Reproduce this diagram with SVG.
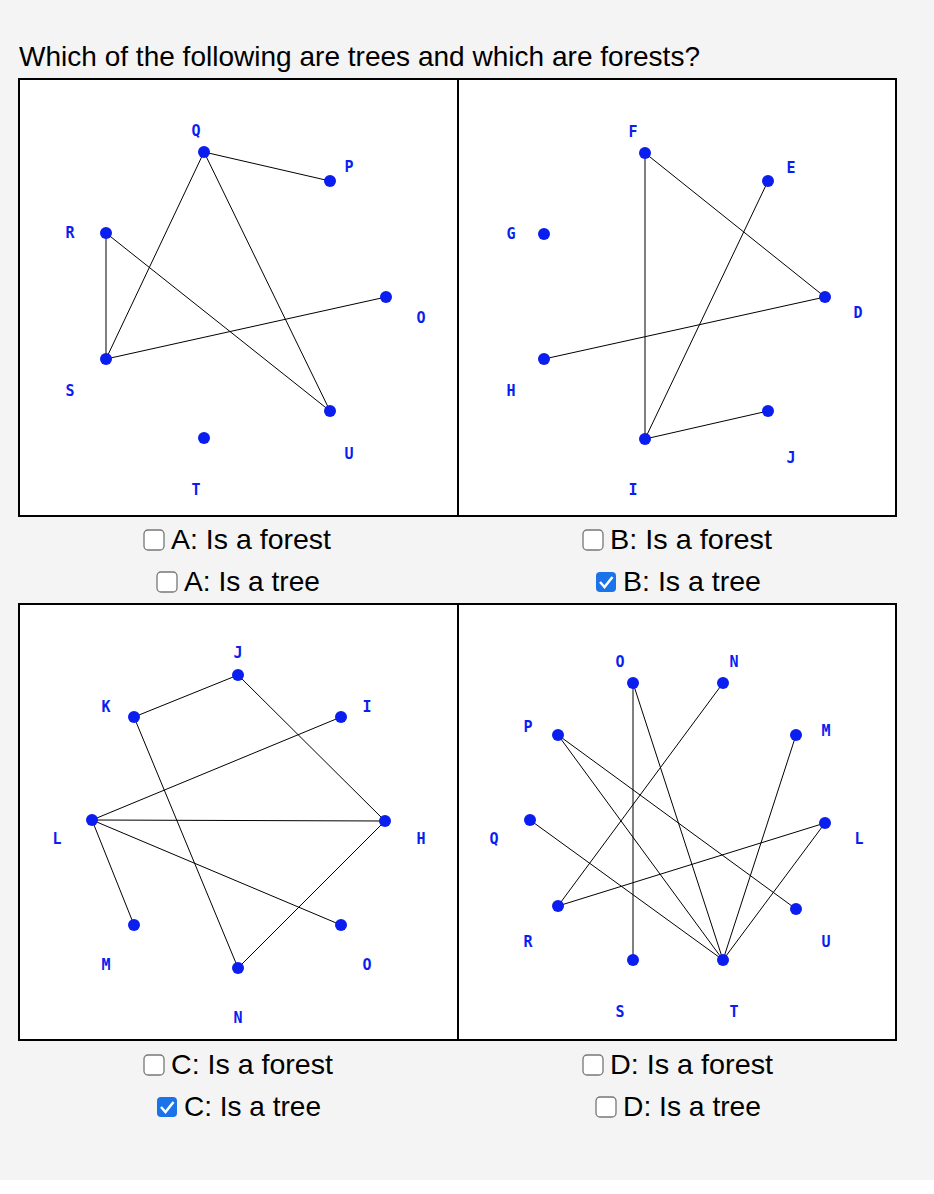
<svg xmlns="http://www.w3.org/2000/svg" width="934" height="1194" viewBox="0 0 934 1194">
<style>
.p{fill:#fff;stroke:#000;stroke-width:2}
.e line{stroke:#000;stroke-width:1}
.n{fill:#0a1ef0}
.l{font-family:"DejaVu Sans Mono",monospace;font-weight:bold;font-size:15px;fill:#0a1ef0;text-anchor:middle}
.t{font-family:"Liberation Sans",Arial,sans-serif;font-size:28px;fill:#000}
.c{fill:#fff;stroke:#777;stroke-width:1.3}
</style>
<rect x="0" y="0" width="934" height="1194" fill="#f4f4f4"/>
<rect x="0" y="1180" width="934" height="14" fill="#fff"/>
<text class="t" x="19" y="66" textLength="681" lengthAdjust="spacingAndGlyphs">Which of the following are trees and which are forests?</text>
<rect class="p" x="19" y="79" width="439" height="437"/>
<rect class="p" x="458" y="79" width="438" height="437"/>
<rect class="p" x="19" y="604" width="439" height="436"/>
<rect class="p" x="458" y="604" width="438" height="436"/>
<g id="connectors" class="e">
<line x1="204" y1="152" x2="330" y2="181"/><line x1="204" y1="152" x2="106" y2="359"/><line x1="204" y1="152" x2="330" y2="411"/>
<line x1="106" y1="233" x2="106" y2="359"/><line x1="106" y1="233" x2="330" y2="411"/><line x1="106" y1="359" x2="386" y2="297"/>
<line x1="645" y1="153" x2="645" y2="439"/><line x1="645" y1="153" x2="825" y2="297"/><line x1="768" y1="181" x2="645" y2="439"/>
<line x1="825" y1="297" x2="544" y2="359"/><line x1="645" y1="439" x2="768" y2="411"/>
<line x1="134" y1="717" x2="238" y2="675"/><line x1="238" y1="675" x2="385" y2="821"/><line x1="134" y1="717" x2="238" y2="968"/>
<line x1="92" y1="820" x2="341" y2="717"/><line x1="92" y1="820" x2="385" y2="821"/><line x1="92" y1="820" x2="134" y2="925"/>
<line x1="92" y1="820" x2="341" y2="925"/><line x1="238" y1="968" x2="385" y2="821"/>
<line x1="633" y1="683" x2="633" y2="960"/><line x1="633" y1="683" x2="723" y2="960"/><line x1="723" y1="683" x2="558" y2="906"/>
<line x1="558" y1="735" x2="723" y2="960"/><line x1="558" y1="735" x2="796" y2="909"/><line x1="530" y1="820" x2="723" y2="960"/>
<line x1="796" y1="735" x2="723" y2="960"/><line x1="825" y1="823" x2="558" y2="906"/><line x1="825" y1="823" x2="723" y2="960"/>
</g>
<g id="graphA">
<circle class="n" cx="204" cy="152" r="6"/><text class="l" x="196" y="136">Q</text>
<circle class="n" cx="330" cy="181" r="6"/><text class="l" x="349" y="172">P</text>
<circle class="n" cx="106" cy="233" r="6"/><text class="l" x="70" y="238">R</text>
<circle class="n" cx="386" cy="297" r="6"/><text class="l" x="421" y="323">O</text>
<circle class="n" cx="106" cy="359" r="6"/><text class="l" x="70" y="396">S</text>
<circle class="n" cx="330" cy="411" r="6"/><text class="l" x="349" y="459">U</text>
<circle class="n" cx="204" cy="438" r="6"/><text class="l" x="196" y="495">T</text>
</g>
<g id="graphB">
<circle class="n" cx="645" cy="153" r="6"/><text class="l" x="633" y="137">F</text>
<circle class="n" cx="768" cy="181" r="6"/><text class="l" x="791" y="173">E</text>
<circle class="n" cx="544" cy="234" r="6"/><text class="l" x="511" y="239">G</text>
<circle class="n" cx="825" cy="297" r="6"/><text class="l" x="858" y="318">D</text>
<circle class="n" cx="544" cy="359" r="6"/><text class="l" x="511" y="396">H</text>
<circle class="n" cx="768" cy="411" r="6"/><text class="l" x="791" y="463">J</text>
<circle class="n" cx="645" cy="439" r="6"/><text class="l" x="633" y="495">I</text>
</g>
<g id="graphC">
<circle class="n" cx="238" cy="675" r="6"/><text class="l" x="238" y="658">J</text>
<circle class="n" cx="134" cy="717" r="6"/><text class="l" x="106" y="712">K</text>
<circle class="n" cx="341" cy="717" r="6"/><text class="l" x="367" y="712">I</text>
<circle class="n" cx="92" cy="820" r="6"/><text class="l" x="57" y="844">L</text>
<circle class="n" cx="385" cy="821" r="6"/><text class="l" x="421" y="844">H</text>
<circle class="n" cx="134" cy="925" r="6"/><text class="l" x="106" y="970">M</text>
<circle class="n" cx="341" cy="925" r="6"/><text class="l" x="367" y="970">O</text>
<circle class="n" cx="238" cy="968" r="6"/><text class="l" x="238" y="1023">N</text>
</g>
<g id="graphD">
<circle class="n" cx="633" cy="683" r="6"/><text class="l" x="620" y="667">O</text>
<circle class="n" cx="723" cy="683" r="6"/><text class="l" x="734" y="667">N</text>
<circle class="n" cx="558" cy="735" r="6"/><text class="l" x="528" y="732">P</text>
<circle class="n" cx="796" cy="735" r="6"/><text class="l" x="826" y="736">M</text>
<circle class="n" cx="530" cy="820" r="6"/><text class="l" x="494" y="844">Q</text>
<circle class="n" cx="825" cy="823" r="6"/><text class="l" x="859" y="844">L</text>
<circle class="n" cx="558" cy="906" r="6"/><text class="l" x="528" y="947">R</text>
<circle class="n" cx="796" cy="909" r="6"/><text class="l" x="826" y="947">U</text>
<circle class="n" cx="633" cy="960" r="6"/><text class="l" x="620" y="1017">S</text>
<circle class="n" cx="723" cy="960" r="6"/><text class="l" x="734" y="1017">T</text>
</g>
<g id="options">
<rect class="c" x="144" y="530" width="20" height="20" rx="4"/><text class="t" x="171" y="549" textLength="160" lengthAdjust="spacingAndGlyphs">A: Is a forest</text>
<rect class="c" x="157" y="572" width="20" height="20" rx="4"/><text class="t" x="184" y="591" textLength="136" lengthAdjust="spacingAndGlyphs">A: Is a tree</text>
<rect class="c" x="583" y="530" width="20" height="20" rx="4"/><text class="t" x="610" y="549" textLength="162" lengthAdjust="spacingAndGlyphs">B: Is a forest</text>
<rect x="596" y="572" width="20" height="20" rx="4" fill="#1a73e8"/><path d="M600 582 l4.5 5 l8-10" fill="none" stroke="#fff" stroke-width="2.5"/><text class="t" x="623" y="591" textLength="138" lengthAdjust="spacingAndGlyphs">B: Is a tree</text>
<rect class="c" x="144" y="1055" width="20" height="20" rx="4"/><text class="t" x="171" y="1074" textLength="162" lengthAdjust="spacingAndGlyphs">C: Is a forest</text>
<rect x="157" y="1097" width="20" height="20" rx="4" fill="#1a73e8"/><path d="M161 1107 l4.5 5 l8-10" fill="none" stroke="#fff" stroke-width="2.5"/><text class="t" x="184" y="1116" textLength="137" lengthAdjust="spacingAndGlyphs">C: Is a tree</text>
<rect class="c" x="583" y="1055" width="20" height="20" rx="4"/><text class="t" x="610" y="1074" textLength="163" lengthAdjust="spacingAndGlyphs">D: Is a forest</text>
<rect class="c" x="596" y="1097" width="20" height="20" rx="4"/><text class="t" x="623" y="1116" textLength="138" lengthAdjust="spacingAndGlyphs">D: Is a tree</text>
</g>
</svg>
